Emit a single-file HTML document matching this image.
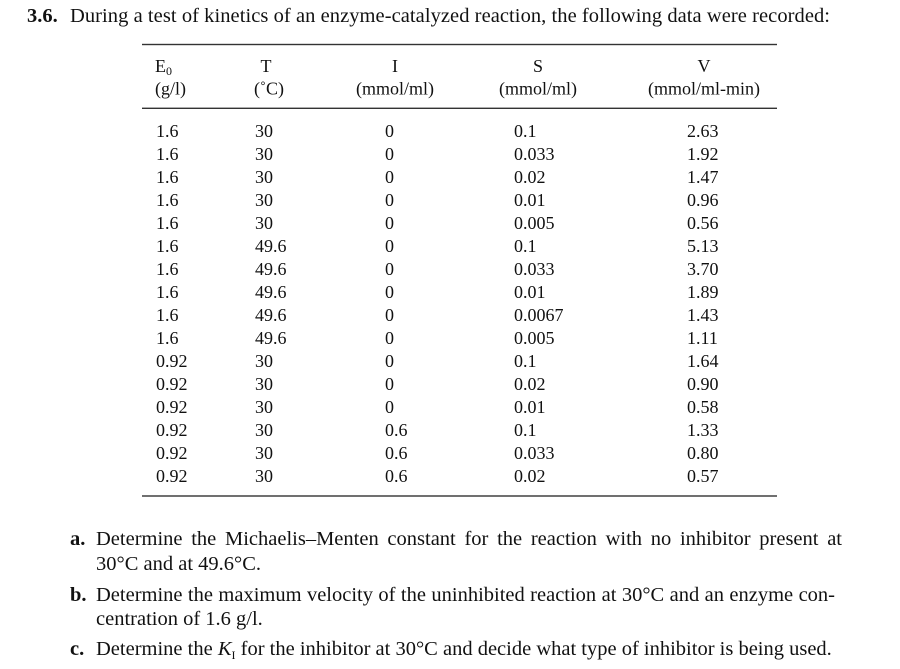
<!DOCTYPE html>
<html>
<head>
<meta charset="utf-8">
<style>
  html,body{margin:0;padding:0;background:#fff;}
  body{width:900px;height:669px;position:relative;overflow:hidden;}
  svg{position:absolute;left:0;top:0;}
  .q{position:absolute;font-family:"Liberation Serif",serif;font-size:20.5px;line-height:20.5px;color:#111;white-space:nowrap;}
  .j{text-align:justify;text-align-last:justify;white-space:normal;}
  b{font-weight:bold;}
</style>
</head>
<body>
<svg width="900" height="669" viewBox="0 0 900 669" font-family="Liberation Serif, serif" fill="#111">
  <!-- Title -->
  <text x="27" y="22" font-size="20.5" font-weight="bold">3.6.</text>
  <text x="70" y="22" font-size="20.5" textLength="760" lengthAdjust="spacing">During a test of kinetics of an enzyme-catalyzed reaction, the following data were recorded:</text>

  <!-- rules -->
  <rect x="142" y="43.8" width="635" height="1.4" fill="#333"/>
  <rect x="142" y="107.6" width="635" height="1.4" fill="#333"/>
  <rect x="142" y="495.3" width="635" height="1.4" fill="#333"/>

  <!-- headers -->
  <g font-size="18">
    <text x="155" y="72">E<tspan font-size="12" dy="3">0</tspan></text>
    <text x="155" y="94.5">(g/l)</text>
    <text x="266" y="72" text-anchor="middle">T</text>
    <text x="269" y="94.5" text-anchor="middle">(˚C)</text>
    <text x="395" y="72" text-anchor="middle">I</text>
    <text x="395" y="94.5" text-anchor="middle">(mmol/ml)</text>
    <text x="538" y="72" text-anchor="middle">S</text>
    <text x="538" y="94.5" text-anchor="middle">(mmol/ml)</text>
    <text x="704" y="72" text-anchor="middle">V</text>
    <text x="704" y="94.5" text-anchor="middle">(mmol/ml-min)</text>
  </g>

  <!-- data -->
  <g font-size="18">
    <!-- E0 -->
    <text x="156" y="137">1.6</text>
    <text x="156" y="160">1.6</text>
    <text x="156" y="183">1.6</text>
    <text x="156" y="206">1.6</text>
    <text x="156" y="229">1.6</text>
    <text x="156" y="252">1.6</text>
    <text x="156" y="275">1.6</text>
    <text x="156" y="298">1.6</text>
    <text x="156" y="321">1.6</text>
    <text x="156" y="344">1.6</text>
    <text x="156" y="367">0.92</text>
    <text x="156" y="390">0.92</text>
    <text x="156" y="413">0.92</text>
    <text x="156" y="436">0.92</text>
    <text x="156" y="459">0.92</text>
    <text x="156" y="482">0.92</text>
    <!-- T -->
    <text x="255" y="137">30</text>
    <text x="255" y="160">30</text>
    <text x="255" y="183">30</text>
    <text x="255" y="206">30</text>
    <text x="255" y="229">30</text>
    <text x="255" y="252">49.6</text>
    <text x="255" y="275">49.6</text>
    <text x="255" y="298">49.6</text>
    <text x="255" y="321">49.6</text>
    <text x="255" y="344">49.6</text>
    <text x="255" y="367">30</text>
    <text x="255" y="390">30</text>
    <text x="255" y="413">30</text>
    <text x="255" y="436">30</text>
    <text x="255" y="459">30</text>
    <text x="255" y="482">30</text>
    <!-- I -->
    <text x="385" y="137">0</text>
    <text x="385" y="160">0</text>
    <text x="385" y="183">0</text>
    <text x="385" y="206">0</text>
    <text x="385" y="229">0</text>
    <text x="385" y="252">0</text>
    <text x="385" y="275">0</text>
    <text x="385" y="298">0</text>
    <text x="385" y="321">0</text>
    <text x="385" y="344">0</text>
    <text x="385" y="367">0</text>
    <text x="385" y="390">0</text>
    <text x="385" y="413">0</text>
    <text x="385" y="436">0.6</text>
    <text x="385" y="459">0.6</text>
    <text x="385" y="482">0.6</text>
    <!-- S -->
    <text x="514" y="137">0.1</text>
    <text x="514" y="160">0.033</text>
    <text x="514" y="183">0.02</text>
    <text x="514" y="206">0.01</text>
    <text x="514" y="229">0.005</text>
    <text x="514" y="252">0.1</text>
    <text x="514" y="275">0.033</text>
    <text x="514" y="298">0.01</text>
    <text x="514" y="321">0.0067</text>
    <text x="514" y="344">0.005</text>
    <text x="514" y="367">0.1</text>
    <text x="514" y="390">0.02</text>
    <text x="514" y="413">0.01</text>
    <text x="514" y="436">0.1</text>
    <text x="514" y="459">0.033</text>
    <text x="514" y="482">0.02</text>
    <!-- V -->
    <text x="687" y="137">2.63</text>
    <text x="687" y="160">1.92</text>
    <text x="687" y="183">1.47</text>
    <text x="687" y="206">0.96</text>
    <text x="687" y="229">0.56</text>
    <text x="687" y="252">5.13</text>
    <text x="687" y="275">3.70</text>
    <text x="687" y="298">1.89</text>
    <text x="687" y="321">1.43</text>
    <text x="687" y="344">1.11</text>
    <text x="687" y="367">1.64</text>
    <text x="687" y="390">0.90</text>
    <text x="687" y="413">0.58</text>
    <text x="687" y="436">1.33</text>
    <text x="687" y="459">0.80</text>
    <text x="687" y="482">0.57</text>
  </g>
</svg>

<!-- Questions (baseline = top + 17.17) -->
<div class="q" style="left:70px;top:528.8px;"><b>a.</b></div>
<div class="q j" style="left:96px;top:528.8px;width:746px;">Determine the Michaelis–Menten constant for the reaction with no inhibitor present at</div>
<div class="q" style="left:96px;top:553.8px;">30°C and at 49.6°C.</div>

<div class="q" style="left:70px;top:584.8px;"><b>b.</b></div>
<div class="q j" style="left:96px;top:584.8px;width:739px;">Determine the maximum velocity of the uninhibited reaction at 30°C and an enzyme con-</div>
<div class="q" style="left:96px;top:608.8px;">centration of 1.6 g/l.</div>

<div class="q" style="left:70px;top:638.8px;"><b>c.</b></div>
<div class="q" style="left:96px;top:638.8px;">Determine the <i>K</i><span style="font-size:12px;position:relative;top:4px;">I</span> for the inhibitor at 30°C and decide what type of inhibitor is being used.</div>
</body>
</html>
